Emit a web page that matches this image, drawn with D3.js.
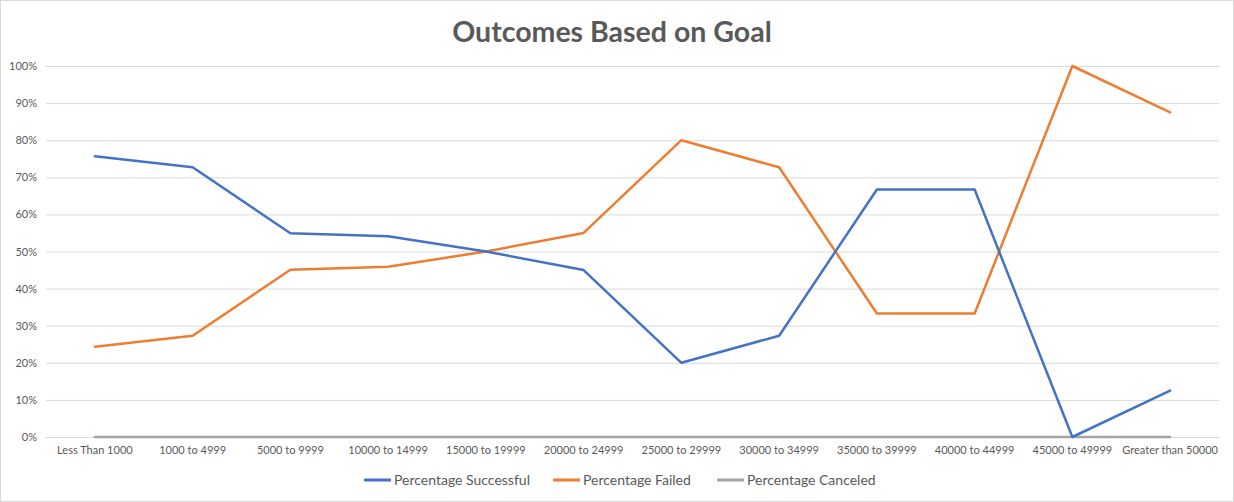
<!DOCTYPE html>
<html>
<head>
<meta charset="utf-8">
<script src="https://cdn.jsdelivr.net/npm/d3@7"></script>
<style>
  body { margin: 0; background: #fff; }
  svg { font-family: Lato, "Open Sans", sans-serif; }
</style>
</head>
<body>
<div class="canvas"></div>
<script>
const categories = ['Less Than 1000', '1000 to 4999', '5000 to 9999', '10000 to 14999',
    '15000 to 19999', '20000 to 24999', '25000 to 29999', '30000 to 34999',
    '35000 to 39999', '40000 to 44999', '45000 to 49999', 'Greater than 50000'];
const successful = [75.7, 72.7, 54.9, 54.1, 50, 45, 20, 27.3, 66.7, 66.7, 0, 12.5];
const failed = [24.3, 27.3, 45.1, 45.9, 50, 55, 80, 72.7, 33.3, 33.3, 100, 87.5];
const canceled = [0, 0, 0, 0, 0, 0, 0, 0, 0, 0, 0, 0];
const yTicks = [0, 10, 20, 30, 40, 50, 60, 70, 80, 90, 100];

const series = [
    { name: 'Percentage Successful', values: successful, colour: '#4472C4' },
    { name: 'Percentage Failed', values: failed, colour: '#ED7D31' },
    { name: 'Percentage Canceled', values: canceled, colour: '#A5A5A5' }
];

const dims = { width: 1234, height: 502 };
const plot = { left: 46, right: 1219, top: 66, bottom: 437 };

const svg = d3.select('.canvas')
    .append('svg')
    .attr('width', dims.width)
    .attr('height', dims.height);

// chart border
svg.append('rect')
    .attr('x', 0.5).attr('y', 0.5)
    .attr('width', dims.width - 1).attr('height', dims.height - 1)
    .attr('fill', '#fff')
    .attr('stroke', '#d9d9d9');

svg.append('text')
    .attr('x', 612)
    .attr('y', 42)
    .attr('text-anchor', 'middle')
    .attr('font-size', 28.5)
    .attr('font-weight', 'bold')
    .attr('fill', '#595959')
    .text('Outcomes Based on Goal');

const x = d3.scaleBand()
    .domain(categories)
    .range([plot.left, plot.right]);

const y = d3.scaleLinear()
    .domain([0, 100])
    .range([plot.bottom, plot.top]);

// gridlines
svg.append('g')
    .selectAll('line')
    .data(yTicks)
    .enter().append('line')
        .attr('x1', plot.left).attr('x2', plot.right)
        .attr('y1', d => y(d) + 0.5).attr('y2', d => y(d) + 0.5)
        .attr('stroke', '#d9d9d9');

// y axis labels
const yAxis = d3.axisLeft(y)
    .tickValues(yTicks)
    .tickFormat(d => d + '%')
    .tickSize(0)
    .tickPadding(9);

svg.append('g')
    .attr('transform', `translate(${plot.left}, 0)`)
    .call(yAxis)
    .call(g => g.select('.domain').remove())
    .selectAll('text')
        .attr('font-size', 11)
        .attr('fill', '#595959')
        .attr('font-family', 'Lato, sans-serif');

// x axis labels
const xAxis = d3.axisBottom(x)
    .tickSize(0)
    .tickPadding(9);

svg.append('g')
    .attr('transform', `translate(0, ${plot.bottom})`)
    .call(xAxis)
    .call(g => g.select('.domain').remove())
    .selectAll('text')
        .attr('font-size', 11)
        .attr('fill', '#595959')
        .attr('font-family', 'Lato, sans-serif');

const line = d3.line()
    .x((d, i) => x(categories[i]) + x.bandwidth() / 2)
    .y(d => y(d));

// draw canceled first so others sit on top
svg.append('g')
    .selectAll('path')
    .data(series.slice().reverse())
    .enter().append('path')
        .attr('d', d => line(d.values))
        .attr('fill', 'none')
        .attr('stroke', d => d.colour)
        .attr('stroke-width', 2.5)
        .attr('stroke-linejoin', 'round')
        .attr('stroke-linecap', 'round');

// legend
const legendX = [364, 553, 717];
const legend = svg.append('g');
series.forEach((s, i) => {
    const g = legend.append('g')
        .attr('transform', `translate(${legendX[i]}, 480)`);
    g.append('line')
        .attr('x1', 0).attr('x2', 27)
        .attr('stroke', s.colour)
        .attr('stroke-width', 3);
    g.append('text')
        .attr('x', 30)
        .attr('dy', '0.35em')
        .attr('font-size', 14)
        .attr('fill', '#595959')
        .text(s.name);
});
</script>
</body>
</html>
